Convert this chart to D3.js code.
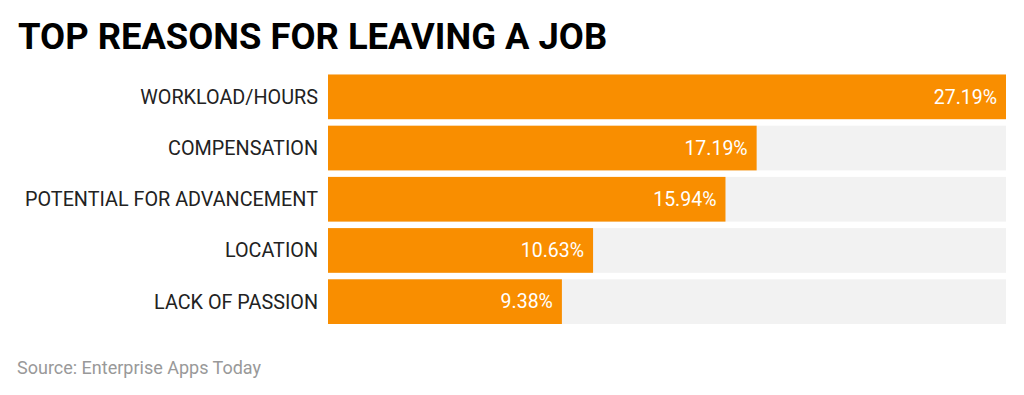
<!DOCTYPE html>
<html>
<head>
<meta charset="utf-8">
<script src="https://cdn.jsdelivr.net/npm/d3@7"></script>
<style>
  body { margin: 0; background: #fff; }
  svg { display: block; font-family: Roboto, sans-serif; }
</style>
</head>
<body>
<svg id="chart"></svg>
<script>
const categories = ["WORKLOAD/HOURS", "COMPENSATION", "POTENTIAL FOR ADVANCEMENT", "LOCATION", "LACK OF PASSION"];
const values = [27.19, 17.19, 15.94, 10.63, 9.38];

const W = 1024, H = 395;
const margin = { top: 74.5, right: 18, bottom: 71, left: 328 };

const svg = d3.select("#chart").attr("width", W).attr("height", H);

const x = d3.scaleLinear()
  .domain([0, d3.max(values)])
  .range([margin.left, W - margin.right]);

const y = d3.scaleBand()
  .domain(categories)
  .range([margin.top, H - margin.bottom])
  .paddingInner(0.127)
  .paddingOuter(0);

const data = categories.map((c, i) => ({ cat: c, val: values[i] }));

// title
svg.append("text")
  .attr("x", 18)
  .attr("y", 49)
  .style("font-size", "36.4px")
  .style("font-weight", "700")
  .attr("fill", "#000")
  .text("TOP REASONS FOR LEAVING A JOB");

// background tracks
svg.append("g")
  .selectAll("rect")
  .data(data)
  .join("rect")
  .attr("x", x(0))
  .attr("y", d => y(d.cat))
  .attr("width", x.range()[1] - x(0))
  .attr("height", y.bandwidth())
  .attr("fill", "#f2f2f2");

// bars
svg.append("g")
  .selectAll("rect")
  .data(data)
  .join("rect")
  .attr("x", x(0))
  .attr("y", d => y(d.cat))
  .attr("width", d => x(d.val) - x(0))
  .attr("height", y.bandwidth())
  .attr("fill", "#f98e00");

// category labels
svg.append("g")
  .selectAll("text")
  .data(data)
  .join("text")
  .attr("x", x(0) - 10)
  .attr("y", d => y(d.cat) + y.bandwidth() / 2)
  .attr("dy", "0.35em")
  .attr("text-anchor", "end")
  .attr("fill", "#222")
  .style("font-size", "19.8px")
  .text(d => d.cat);

// value labels
svg.append("g")
  .selectAll("text")
  .data(data)
  .join("text")
  .attr("x", d => x(d.val) - 9)
  .attr("y", d => y(d.cat) + y.bandwidth() / 2)
  .attr("dy", "0.35em")
  .attr("text-anchor", "end")
  .attr("fill", "#fff")
  .style("font-size", "19.5px")
  .text(d => d.val.toFixed(2) + "%");

// source
svg.append("text")
  .attr("x", 17)
  .attr("y", 374)
  .attr("fill", "#999")
  .style("font-size", "18px")
  .text("Source: Enterprise Apps Today");
</script>
</body>
</html>
